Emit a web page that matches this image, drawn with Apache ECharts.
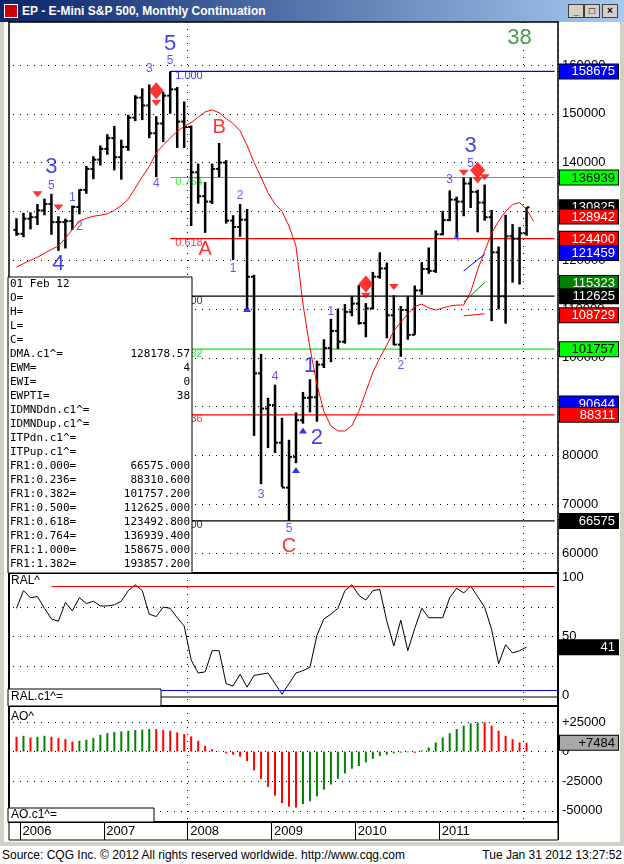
<!DOCTYPE html>
<html>
<head>
<meta charset="utf-8">
<script src="https://cdn.jsdelivr.net/npm/echarts@6/dist/echarts.min.js"></script>
<style>
  body { margin:0; width:624px; height:864px; background:#d4d0c8; position:relative; overflow:hidden; font-family:"Liberation Sans", Arial, sans-serif; }
  #title { position:absolute; left:0; top:0; width:624px; height:22px; background:linear-gradient(to right,#0a246a,#a6caf0); color:#fff; font-weight:bold; font-size:12px; line-height:22px; padding-left:22px; box-sizing:border-box; }
  #title .ic { position:absolute; left:4px; top:4px; width:14px; height:14px; background:#c00; border:1px solid #fff; box-sizing:border-box; }
  .btn { position:absolute; top:4px; width:16px; height:14px; background:#d4d0c8; border:1px solid #404040; box-sizing:border-box; font-size:10px; line-height:12px; text-align:center; color:#000; font-weight:bold; }
  #client { position:absolute; left:4px; top:22px; width:616px; height:820px; background:#fff; }
  #footer { position:absolute; left:0; top:846px; width:624px; height:18px; background:#fff; font-size:12px; line-height:18px; color:#000; }
  #chart { position:absolute; left:0; top:0; width:624px; height:864px; }
</style>
</head>
<body>
<div id="title"><div class="ic"></div>EP - E-Mini S&amp;P 500, Monthly Continuation
  <div class="btn" style="left:568px">_</div><div class="btn" style="left:584px">□</div><div class="btn" style="left:602px">×</div>
</div>
<div id="client"></div>
<div id="footer"><span style="position:absolute;left:2px">Source: CQG Inc. © 2012 All rights reserved worldwide. http://www.cqg.com</span><span style="position:absolute;right:2px">Tue Jan 31 2012 13:27:52</span></div>
<div id="chart"></div>
<script>
// monthly bars Dec 2005 .. Jan 2012: open, high, low, close
const opens  = [126200,125400,128500,128800,130200,131500,127800,127800,128000,130900,134400,138700,140600,142800,145000,141100,143200,149200,153300,151700,146000,148000,153700,155000,148400,147300,138000,133100,132000,138700,140000,128100,126800,128300,116600,96800,89600,90300,82600,73400,79700,87200,91800,91900,98600,102000,105500,103300,109400,111100,107100,110100,116600,118300,108700,102700,109800,104700,113800,118200,117800,125300,128200,132400,132000,135700,134000,131800,128800,121600,112600,124900,124400,125500];
const highs  = [128600,129700,129800,131500,132600,133600,129000,128500,131200,134500,139300,141300,143500,145800,147500,144700,149800,153800,155200,156000,149500,154500,158675,155500,152500,147600,139800,136000,139800,144000,140500,129200,131500,130500,117000,100800,91800,94500,87700,83200,88800,93000,95600,99400,103800,108000,110100,111000,112700,114900,111200,117600,121600,119500,112800,110600,112700,114800,119600,122600,126100,130100,134300,133000,136939,136900,134400,135500,130300,122800,129300,127400,126800,130825];
const lows   = [125000,124700,126300,127200,129200,125200,121900,122400,126200,129400,133600,136600,139400,141600,138400,136500,142400,148500,148700,145000,137000,144200,150000,143000,143000,127000,131600,125600,131500,137000,127500,120000,124800,110000,84000,74100,81500,80500,73500,66575,78400,86500,88800,86900,97900,99100,101800,102900,108500,106800,104200,109900,116200,104000,102600,100200,103700,104700,112900,117200,117400,125100,128000,124600,129000,130700,125700,128100,107500,109900,107000,115400,115000,125000];
const closes = [125400,128500,128800,130200,131500,127800,127800,128000,130900,134400,138700,140600,142800,145000,141100,143200,149200,153300,151700,146000,148000,153700,155000,148400,147300,138000,133100,132000,138700,140000,128100,126800,128300,116600,96800,89600,90300,82600,73400,79700,87200,91800,91900,98600,102000,105500,103300,109400,111100,107100,110100,116600,118300,108700,102700,109800,104700,113800,118200,117800,125300,128200,132400,132000,135700,134000,131800,128800,121600,112600,124900,124400,125500,130825];
// red displaced average
const dmaLine = [118600,119300,120000,120600,121400,122200,122900,124500,126300,128000,128600,129000,129200,129500,130200,131200,132500,134800,137100,139200,142000,143600,145000,146400,147400,148200,149300,150400,150800,150200,149000,148000,146500,143500,140000,137000,133800,131500,130000,127000,122900,111000,102000,94500,89000,86000,85000,85000,86100,89000,93000,97000,100000,102600,105500,107300,109000,110500,111000,110200,109800,110200,110600,110800,110800,113500,118000,121800,125500,128000,130000,131400,131800,130400,128000];
const ralValues = [74,89,83,84,74,65,63,79,72,83,78,80,76,76,77,80,89,94,89,69,67,75,74,66,59,30,19,20,38,38,10,8,18,7,17,18,19,10,1,10,19,21,24,51,65,69,74,89,94,85,81,89,90,63,42,64,38,57,74,66,66,66,83,91,87,93,84,75,56,27,43,36,38,41];
const aoValues = [12500,13300,11900,12500,13300,12500,11400,10500,8500,9100,9900,11400,14200,15600,16500,17000,17600,18200,18500,19000,19000,18200,17600,16200,14800,12800,9100,4800,2000,300,-1400,-2600,-4300,-8000,-15900,-23000,-29800,-37200,-43500,-46500,-47300,-44300,-42000,-37800,-32100,-27800,-23000,-18500,-14500,-12200,-9100,-6200,-3700,-2600,-1400,-900,-600,-1100,1100,3400,7700,11900,15600,19000,21900,23900,24700,24700,21900,17600,13300,10500,7700,7484];

const priceTicks = [60000,70000,80000,90000,100000,110000,120000,130000,140000,150000,160000];
const ralTicks = [0,50,100];
const aoTicks = [-50000,-25000,0,25000];
// fib levels: [ratio label, value, colour]
const fibLevels = [['1.000',158675,'#0000ff'],['0.764',136939,'#00ee00'],['0.618',124400,'#ff0000'],['0.500',112625,'#000000'],['0.382',101757,'#00ee00'],['0.236',88311,'#ff0000'],['0.000',66575,'#000000']];
// right hand value tags: [value, background, text colour]
const priceTags = [[158675,'#0000ff','#fff'],[136939,'#00ff00','#000'],[130825,'#000','#fff'],[128942,'#ff0000','#fff'],[124400,'#ff0000','#fff'],[121459,'#0000ff','#fff'],[115323,'#008000','#fff'],[112625,'#000','#fff'],[108729,'#ff0000','#fff'],[101757,'#00ff00','#000'],[90644,'#0000ff','#fff'],[88311,'#ff0000','#fff'],[66575,'#000','#fff']];
// wave labels: [month index, price, text, colour, size]
const waveLabels = [[22,164300,'5','#1010e0',22],[22,160800,'5','#3030ff',12],[19,159300,'3','#3030ff',12],[5,139200,'3','#1010e0',22],[5,135300,'5','#3030ff',12],[8,132800,'1','#3030ff',12],[9,126900,'2','#3030ff',12],[6,119200,'4','#1010e0',22],[20,135600,'4','#3030ff',12],[29,147200,'B','#ff0000',20],[27,122200,'A','#ff0000',20],[32,133200,'2','#3030ff',12],[31,118200,'1','#3030ff',12],[35,71900,'3','#3030ff',12],[37,96200,'4','#3030ff',12],[39,65000,'5','#3030ff',12],[39,61300,'C','#ff0000',20],[42,98300,'1','#1010e0',22],[43,83600,'2','#1010e0',22],[45,109500,'1','#3030ff',12],[55,98300,'2','#3030ff',12],[62,136400,'3','#3030ff',12],[65,143400,'3','#1010e0',22],[65,139700,'5','#3030ff',12],[63,124600,'4','#3030ff',12],[72,165500,'38','#208020',22]];
const diamonds = [[20,154700],[50,115100],[66,138400]];
const downMarks = [[20,152200],[3,133500],[6,130800],[50,112700],[54,114500],[64,137900],[66,136300],[67,137000]];
const upMarks = [[33,110000],[40,77000],[41,85100]];
const blueStub = [[64,117800],[67,121200]], greenStub = [[64,111400],[67,115400]], redStub = [[64,108600],[67,109000]];
const infoLines = [['01 Feb 12',''],['O=',''],['H=',''],['L=',''],['C=',''],['DMA.c1^=','128178.57'],['EWM=','4'],['EWI=','0'],['EWPTI=','38'],['IDMNDdn.c1^=',''],['IDMNDup.c1^=',''],['ITPdn.c1^=',''],['ITPup.c1^=',''],['FR1:0.000=','66575.000'],['FR1:0.236=','88310.600'],['FR1:0.382=','101757.200'],['FR1:0.500=','112625.000'],['FR1:0.618=','123492.800'],['FR1:0.764=','136939.400'],['FR1:1.000=','158675.000'],['FR1:1.382=','193857.200']];

const months = [];
for (let i = 0; i < 78; i++) { const m = 11 + i; months.push((2005 + Math.floor(m / 12)) + '-' + String(m % 12 + 1).padStart(2, '0')); }
const isJan = i => months[i].endsWith('-01') && months[i] < '2012';
const dotted = {color:'#000', width:1, type:[1,6]};
const hidden = {color:'rgba(0,0,0,0)', width:0};
const axisFont = {color:'#000', fontSize:13, fontFamily:'Liberation Sans'};

function tickMark(v, text, dots) {
  return { yAxis:v, lineStyle: dots ? dotted : hidden,
    label:Object.assign({show:true, position:'end', distance:4, formatter:text}, axisFont) };
}
function tagMark(v, bg, fg, text) {
  return { yAxis:v, lineStyle:hidden,
    label:{show:true, position:'end', distance:2, formatter:'{a|' + text + '}',
      rich:{a:{width:52, align:'right', backgroundColor:bg, color:fg, fontSize:13, fontFamily:'Liberation Sans', padding:[1,3,0,3], borderColor:'#000', borderWidth:1}}} };
}

const left = 13, right = 66;
const chart = echarts.init(document.getElementById('chart'));
const xBase = gi => ({ type:'category', gridIndex:gi, data:months, boundaryGap:true,
  axisLine:{show:false, onZero:false}, axisTick:{show:false}, axisLabel:{show:false},
  splitLine:{show:true, interval:(i) => months[i] === '2008-01' || months[i] === '2012-01', lineStyle:dotted} });

chart.setOption({
  animation:false,
  grid:[
    {left:left, right:right, top:22, height:551},
    {left:left, right:right, top:573, height:133},
    {left:left, right:right, top:706, height:116}
  ],
  xAxis:[xBase(0), xBase(1), Object.assign(xBase(2), {
    position:'bottom',
    axisTick:{show:true, interval:(i) => isJan(i), length:18, lineStyle:{color:'#000'}},
    axisLabel:Object.assign({show:true, interval:(i) => isJan(i), formatter:v => v.slice(0,4), align:'left', margin:3, padding:[0,0,0,-1]}, axisFont)
  })],
  yAxis:[
    {type:'value', gridIndex:0, min:55900, max:168800, show:false},
    {type:'value', gridIndex:1, min:-9, max:104, show:false},
    {type:'value', gridIndex:2, min:-59500, max:38500, show:false}
  ],
  series:[
    ...fibLevels.map(f => ({
      type:'line', xAxisIndex:0, yAxisIndex:0, symbol:'none', silent:true, z:1,
      lineStyle:{color:f[2], width:1.2},
      data:[[months[22], f[1]], [months[77], f[1]]]
    })),
    { type:'custom', xAxisIndex:0, yAxisIndex:0, z:3,
      data: opens.map((o, i) => [i, o, highs[i], lows[i], closes[i]]),
      renderItem:(params, api) => {
        const hi = api.coord([api.value(0), api.value(2)]);
        const lo = api.coord([api.value(0), api.value(3)]);
        const op = api.coord([api.value(0), api.value(1)]);
        const cl = api.coord([api.value(0), api.value(4)]);
        return {type:'group', children:[
          {type:'line', shape:{x1:hi[0], y1:hi[1], x2:lo[0], y2:lo[1]}, style:{stroke:'#000', lineWidth:2.5}},
          {type:'line', shape:{x1:op[0] - 3, y1:op[1], x2:op[0], y2:op[1]}, style:{stroke:'#000', lineWidth:2}},
          {type:'line', shape:{x1:cl[0], y1:cl[1], x2:cl[0] + 3, y2:cl[1]}, style:{stroke:'#000', lineWidth:2}}
        ]};
      } },
    { type:'line', xAxisIndex:0, yAxisIndex:0, symbol:'none', silent:true, z:4, data:dmaLine, lineStyle:{color:'#ff0000', width:1},
      markLine:{symbol:'none', silent:true, animation:false, data:[
        ...priceTicks.map(v => tickMark(v, String(v), true)),
        ...priceTags.map(t => tagMark(t[0], t[1], t[2], String(t[0])))
      ]} },
    { type:'line', xAxisIndex:0, yAxisIndex:0, symbol:'none', silent:true, z:4, data:blueStub.map(p => [months[p[0]], p[1]]), lineStyle:{color:'#0000ff', width:1} },
    { type:'line', xAxisIndex:0, yAxisIndex:0, symbol:'none', silent:true, z:4, data:greenStub.map(p => [months[p[0]], p[1]]), lineStyle:{color:'#008000', width:1} },
    { type:'line', xAxisIndex:0, yAxisIndex:0, symbol:'none', silent:true, z:4, data:redStub.map(p => [months[p[0]], p[1]]), lineStyle:{color:'#ff0000', width:1} },
    { type:'scatter', xAxisIndex:0, yAxisIndex:0, symbolSize:0, silent:true, z:5,
      data: waveLabels.map(w => ({ value:[w[0], w[1]], label:{show:true, position:'inside', formatter:w[2], color:w[3], fontSize:w[4], fontFamily:'Liberation Sans'} })) },
    { type:'scatter', xAxisIndex:0, yAxisIndex:0, symbolSize:0, silent:true, z:2,
      data: fibLevels.map(f => ({ value:[22, f[1]], label:{show:true, position:'right', offset:[0,-1], formatter:f[0], color:f[2], fontSize:11, fontFamily:'Liberation Sans', verticalAlign:'top'} })) },
    { type:'scatter', xAxisIndex:0, yAxisIndex:0, symbol:'diamond', symbolSize:[15,17], itemStyle:{color:'#ff0000'}, z:5, data:diamonds },
    { type:'scatter', xAxisIndex:0, yAxisIndex:0, symbol:'triangle', symbolRotate:180, symbolSize:[10,6], itemStyle:{color:'#ff0000'}, z:5, data:downMarks },
    { type:'scatter', xAxisIndex:0, yAxisIndex:0, symbol:'triangle', symbolSize:[8,6], itemStyle:{color:'#0000ff'}, z:5, data:upMarks },
    // RAL panel
    { type:'line', xAxisIndex:1, yAxisIndex:1, symbol:'none', data:ralValues, lineStyle:{color:'#000', width:1},
      markLine:{ symbol:'none', silent:true, animation:false, data:[
        ...[25,50,75].map(v => ({yAxis:v, lineStyle:dotted, label:{show:false}})),
        ...ralTicks.map(v => tickMark(v, String(v), false)),
        [{coord:[months[5], 93], lineStyle:{color:'#ff0000', width:1, type:'solid'}, label:{show:false}}, {coord:[months[77], 93]}],
        {yAxis:4, lineStyle:{color:'#0000ff', width:1.2, type:'solid'}, label:{show:false}},
        tagMark(41, '#000', '#fff', '41')
      ]} },
    // AO panel
    { type:'bar', xAxisIndex:2, yAxisIndex:2, barWidth:2,
      data: aoValues.map((v, i) => ({value:v, itemStyle:{color: i > 0 && v > aoValues[i - 1] ? '#008000' : '#ff0000'}})),
      markLine:{ symbol:'none', silent:true, animation:false, data:[
        ...aoTicks.map(v => tickMark(v, (v > 0 ? '+' : '') + v, true)),
        tagMark(7484, '#a8a8a8', '#000', '+7484')
      ]} }
  ],
  graphic:[
    {type:'rect', shape:{x:9, y:22, width:549, height:551}, style:{fill:'none', stroke:'#000', lineWidth:1.5}, z:50},
    {type:'rect', shape:{x:9, y:573, width:549, height:133}, style:{fill:'none', stroke:'#000', lineWidth:2}, z:50},
    {type:'rect', shape:{x:9, y:706, width:549, height:116}, style:{fill:'none', stroke:'#000', lineWidth:2}, z:50},
    {type:'rect', shape:{x:9, y:822, width:549, height:18}, style:{fill:'none', stroke:'#000', lineWidth:1}, z:50},
    {type:'rect', shape:{x:8, y:277, width:184, height:296}, style:{fill:'#fff', stroke:'#000', lineWidth:1}, z:60},
    ...infoLines.map((l, i) => ({type:'text', x:10, y:279 + i * 14, z:61, style:{text:l[0], font:'11px "DejaVu Sans Mono"', fill:'#000'}})),
    ...infoLines.map((l, i) => ({type:'text', x:190, y:279 + i * 14, z:61, style:{text:l[1], font:'11px "DejaVu Sans Mono"', fill:'#000', textAlign:'right'}})),
    {type:'text', x:11, y:575, z:61, style:{text:'RAL^', font:'12px "Liberation Sans"', fill:'#000'}},
    {type:'rect', shape:{x:8, y:689, width:153, height:17}, style:{fill:'#fff', stroke:'#000', lineWidth:1}, z:60},
    {type:'line', shape:{x1:161, y1:697, x2:558, y2:697}, style:{stroke:'#000', lineWidth:1}, z:60},
    {type:'text', x:11, y:691, z:61, style:{text:'RAL.c1^=', font:'12px "Liberation Sans"', fill:'#000'}},
    {type:'text', x:11, y:711, z:61, style:{text:'AO^', font:'12px "Liberation Sans"', fill:'#000'}},
    {type:'rect', shape:{x:8, y:808, width:146, height:14}, style:{fill:'#fff', stroke:'#000', lineWidth:1}, z:60},
    {type:'text', x:11, y:809, z:61, style:{text:'AO.c1^=', font:'12px "Liberation Sans"', fill:'#000'}}
  ]
});
</script>
</body>
</html>
